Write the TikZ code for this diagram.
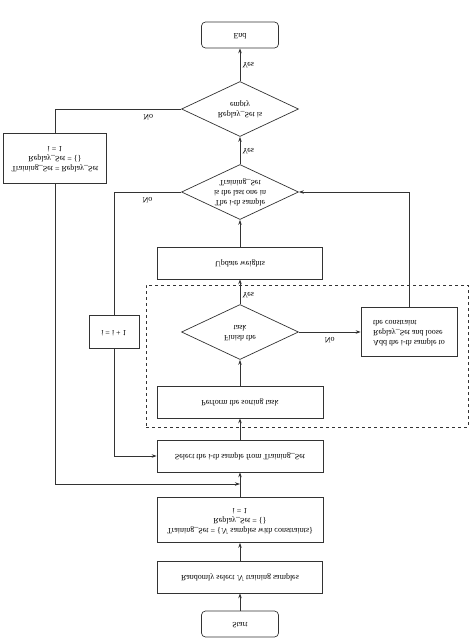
\documentclass[tikz,border=0pt]{standalone}
\usepackage{fontspec}
\setmainfont{Liberation Serif}
\usepackage{graphicx}
\usetikzlibrary{shapes.geometric,arrows.meta}
\newcommand\flipc[1]{\scalebox{1}[-1]{\begin{tabular}{@{}c@{}}#1\end{tabular}}}
\newcommand\flipl[1]{\scalebox{1}[-1]{\begin{tabular}{@{}l@{}}#1\end{tabular}}}
\begin{document}
\begin{tikzpicture}[x=1pt,y=-1pt,
  txt/.style={font=\fontsize{8}{10}\selectfont},
  box/.style={txt, draw=black!80, line width=0.7pt, minimum width=166pt, minimum height=32pt, inner sep=2pt},
  term/.style={box, rounded corners=4pt, minimum width=77pt, minimum height=26pt},
  decision/.style={draw=black!80, line width=0.7pt, diamond, minimum width=117pt, minimum height=55pt, inner sep=0pt},
  every label/.append style={txt},
  arr/.style={-{Stealth[length=5pt,width=3.5pt]}, line width=0.7pt, draw=black!80},
  con/.style={line width=0.7pt, draw=black!80},
  lbl/.style={txt, inner sep=2pt}]
\useasboundingbox (0,0) rectangle (474,641);

\node[draw=black!80, line width=0.7pt, dashed, minimum width=322pt, minimum height=142pt] (grp) at (307,356) {};

\node[term] (end) at (240,35) {\flipc{End}};
\node[decision, label={center:\flipc{Replay\_Set is\\empty}}] (empty) at (240,109) {};
\node[decision, label={center:\flipc{The i-th sample\\is the last one in\\Training\_Set}}] (last) at (240,192) {};
\node[box, minimum width=165pt] (upd) at (240,263) {\flipc{Update weights}};
\node[decision, label={center:\flipc{Finish the\\task}}] (fin) at (240,332) {};
\node[box, minimum width=96pt, minimum height=49pt] (add) at (409,332) {\flipl{Add the i-th sample to\\Replay\_Set and loose\\the constraint}};
\node[box] (perf) at (240,402) {\flipc{Perform the sorting task}};
\node[box] (sel) at (240,456) {\flipc{Select the i-th sample from Training\_Set}};
\node[box, minimum height=45pt] (init) at (240,520) {\flipc{Training\_Set = \{$N$ samples with constraints\}\\Replay\_Set = \{\}\\i = 1}};
\node[box, minimum width=165pt] (rand) at (240,577) {\flipc{Randomly select $N$ training samples}};
\node[term] (start) at (240,624) {\flipc{Start}};
\node[box, minimum width=103pt, minimum height=50pt] (reset) at (55,158) {\flipc{Training\_Set = Replay\_Set\\Replay\_Set = \{\}\\i = 1}};
\node[box, minimum width=50pt, minimum height=33pt] (inc) at (114,332) {\flipc{i = i + 1}};
\coordinate (j1) at (240,484);

\draw[arr] (start) -- (rand);
\draw[arr] (rand) -- (init);
\draw[arr] (init) -- (sel);
\draw[arr] (sel) -- (perf);
\draw[arr] (perf) -- (fin);
\draw[arr] (fin) -- node[lbl, right, pos=0.4] {\flipc{Yes}} (upd);
\draw[arr] (fin.east) -- node[lbl, below] {\flipc{No}} (add);
\draw[arr] (add.north) |- (last.east);
\draw[arr] (upd) -- (last);
\draw[arr] (last) -- node[lbl, right] {\flipc{Yes}} (empty);
\draw[arr] (empty) -- node[lbl, right] {\flipc{Yes}} (end);
\draw[con] (empty.west) -| node[lbl, below, pos=0.13] {\flipc{No}} (reset.north);
\draw[arr] (reset.south) |- (j1);
\draw[con] (last.west) -| node[lbl, below, pos=0.25] {\flipc{No}} (inc.north);
\draw[arr] (inc.south) |- (sel.west);
\end{tikzpicture}
\end{document}
